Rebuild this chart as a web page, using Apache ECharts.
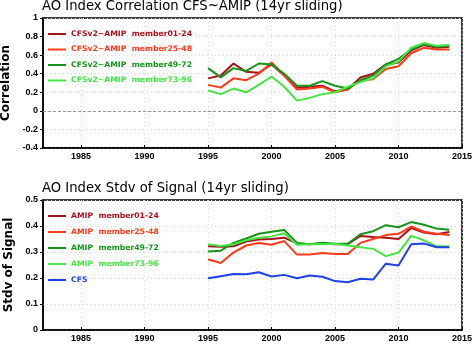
<!DOCTYPE html>
<html>
<head>
<meta charset="utf-8">
<script src="https://cdn.jsdelivr.net/npm/echarts@6/dist/echarts.min.js"></script>
<style>html,body{margin:0;padding:0;background:#fff;}#c{width:474px;height:344px;}</style>
</head>
<body>
<div id="c"></div>
<script>
const years = [1995,1996,1997,1998,1999,2000,2001,2002,2003,2004,2005,2006,2007,2008,2009,2010,2011,2012,2013,2014];
const xTicks = [1985,1990,1995,2000,2005,2010,2015];

const corrNames = ['CFSv2~AMIP  member01-24','CFSv2~AMIP  member25-48','CFSv2~AMIP  member49-72','CFSv2~AMIP  member73-96'];
const corr01 = [0.35,0.38,0.51,0.42,0.41,0.50,0.38,0.25,0.26,0.27,0.21,0.23,0.36,0.40,0.50,0.52,0.65,0.71,0.68,0.69];
const corr25 = [0.28,0.25,0.35,0.33,0.40,0.52,0.38,0.23,0.24,0.26,0.20,0.23,0.33,0.34,0.45,0.48,0.62,0.68,0.66,0.66];
const corr49 = [0.46,0.36,0.46,0.43,0.51,0.50,0.40,0.27,0.27,0.32,0.27,0.24,0.33,0.38,0.50,0.56,0.66,0.72,0.69,0.70];
const corr73 = [0.22,0.18,0.24,0.20,0.28,0.37,0.26,0.11,0.14,0.18,0.20,0.26,0.31,0.35,0.48,0.53,0.68,0.73,0.70,0.71];

const stdNames = ['AMIP  member01-24','AMIP  member25-48','AMIP  member49-72','AMIP  member73-96','CFS'];
const std01 = [0.322,0.320,0.322,0.340,0.348,0.350,0.355,0.333,0.330,0.333,0.330,0.330,0.362,0.358,0.355,0.350,0.392,0.375,0.368,0.377];
const std25 = [0.272,0.258,0.298,0.325,0.335,0.328,0.342,0.290,0.290,0.296,0.292,0.292,0.335,0.350,0.365,0.370,0.398,0.378,0.370,0.365];
const std49 = [0.302,0.305,0.335,0.352,0.370,0.378,0.385,0.335,0.330,0.336,0.332,0.332,0.368,0.380,0.403,0.395,0.415,0.405,0.390,0.386];
const std73 = [0.330,0.323,0.330,0.345,0.355,0.360,0.372,0.328,0.330,0.330,0.332,0.325,0.318,0.312,0.284,0.298,0.362,0.345,0.322,0.322];
const stdCFS = [0.199,0.207,0.215,0.214,0.222,0.206,0.212,0.199,0.210,0.205,0.188,0.184,0.197,0.194,0.255,0.248,0.330,0.333,0.318,0.318];

const colors = ['#a8101a','#ff3a1a','#14941a','#44e644','#2040e8'];
const FONT = 'Liberation Sans';

function pair(vals){ return years.map((y,i)=>[y, vals[i]]); }

function xAxis(gi){
  return {
    type:'value', gridIndex:gi, min:1982, max:2015,
    axisLine:{show:true, onZero:false, lineStyle:{color:'#000', width:1.5}},
    axisTick:{show:true, inside:true, length:3, customValues:xTicks, lineStyle:{color:'#000'}},
    axisLabel:{customValues:xTicks, fontSize:9, fontWeight:'bold', color:'#000', margin:4, fontFamily:FONT, formatter:v=>String(v)},
    splitLine:{show:true, lineStyle:{color:'#d8d8d8', type:[1,3], width:1}}
  };
}
function yAxis(gi, min, max, interval, name, fmt){
  return {
    type:'value', gridIndex:gi, min:min, max:max, interval:interval,
    name:name, nameLocation:'middle', nameGap:26, nameRotate:90,
    nameTextStyle:{fontSize:12, fontWeight:'bold', color:'#000', fontFamily:'DejaVu Sans'},
    axisLine:{show:true, lineStyle:{color:'#000', width:1.5}},
    axisTick:{show:true, inside:false, length:3, lineStyle:{color:'#000'}},
    axisLabel:{fontSize:9, fontWeight:'bold', color:'#000', margin:5, fontFamily:FONT, formatter:fmt},
    splitLine:{show:true, lineStyle:{color:'#d8d8d8', type:[1,3], width:1}}
  };
}
function line(name, vals, color, xi, yi, extra){
  const s = {name:name, type:'line', xAxisIndex:xi, yAxisIndex:yi, data:pair(vals),
    symbol:'none', lineStyle:{color:color, width:2}, itemStyle:{color:color}, silent:true, animation:false};
  return Object.assign(s, extra||{});
}
const fmtNum = v => (Math.abs(v) < 1e-9 ? '0' : String(Math.round(v*10)/10));

const legendText = {fontSize:7.7, fontWeight:'bold', lineHeight:12, fontFamily:'DejaVu Sans'};

const option = {
  animation:false,
  backgroundColor:'#fff',
  title:[
    {text:'AO Index Correlation CFS~AMIP (14yr sliding)', left:42, top:0, padding:0, textStyle:{fontSize:13.2, fontWeight:'normal', color:'#000', fontFamily:'DejaVu Sans'}},
    {text:'AO Index Stdv of Signal (14yr sliding)', left:42, top:182, padding:0, textStyle:{fontSize:13.2, fontWeight:'normal', color:'#000', fontFamily:'DejaVu Sans'}}
  ],
  grid:[
    {left:43, right:12, top:18, height:130, outerBoundsMode:'none', containLabel:false, show:true, borderColor:'#000', borderWidth:1.5, backgroundColor:'transparent'},
    {left:43, right:12, top:200, height:130, outerBoundsMode:'none', containLabel:false, show:true, borderColor:'#000', borderWidth:1.5, backgroundColor:'transparent'}
  ],
  legend:[
    {orient:'vertical', left:48, top:28, padding:0, itemWidth:18, itemHeight:2, itemGap:3.5, icon:'rect',
     textStyle:legendText,
     data: corrNames.map((n,i)=>({name:n, textStyle:{color:colors[i]}})), selectedMode:false},
    {orient:'vertical', left:48, top:210, padding:0, itemWidth:18, itemHeight:2, itemGap:4, icon:'rect',
     textStyle:legendText,
     data: stdNames.map((n,i)=>({name:n, textStyle:{color:colors[i]}})), selectedMode:false}
  ],
  xAxis:[xAxis(0), xAxis(1)],
  yAxis:[yAxis(0,-0.4,1,0.2,'Correlation',fmtNum), yAxis(1,0,0.5,0.1,'Stdv of Signal',fmtNum)],
  series:[
    line(corrNames[0], corr01, colors[0], 0, 0, {markLine:{silent:true, symbol:'none', label:{show:false}, lineStyle:{color:'#999', type:[3,2], width:1}, data:[{yAxis:0}]}}),
    line(corrNames[1], corr25, colors[1], 0, 0),
    line(corrNames[2], corr49, colors[2], 0, 0),
    line(corrNames[3], corr73, colors[3], 0, 0),
    line(stdNames[0], std01, colors[0], 1, 1),
    line(stdNames[1], std25, colors[1], 1, 1),
    line(stdNames[2], std49, colors[2], 1, 1),
    line(stdNames[3], std73, colors[3], 1, 1),
    line(stdNames[4], stdCFS, colors[4], 1, 1)
  ]
};
const chart = echarts.init(document.getElementById('c'), null, {renderer:'canvas'});
chart.setOption(option);
</script>
</body>
</html>
